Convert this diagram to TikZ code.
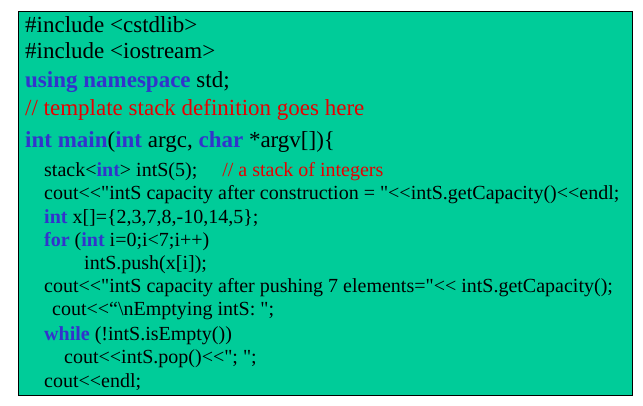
\documentclass[tikz,border=0pt]{standalone}
\usepackage{fontspec}
\newfontfamily\code{Liberation Serif}
\definecolor{bg}{RGB}{0,204,153}
\definecolor{kw}{RGB}{51,51,204}
\definecolor{cm}{RGB}{230,0,0}
\newcommand{\kw}[1]{\textcolor{kw}{\bfseries #1}}
\newcommand{\cm}[1]{\textcolor{cm}{#1}}
\begin{document}
\begin{tikzpicture}[x=1pt,y=-1pt,
  big/.style={anchor=base west,inner sep=0pt,font=\code\fontsize{23}{26}\selectfont},
  small/.style={anchor=base west,inner sep=0pt,font=\code\fontsize{20}{22}\selectfont}]
\useasboundingbox (0,0) rectangle (643,406);
\draw[fill=bg,line width=1pt] (18,12) rectangle (632,395);
\node[big] (l1) at (25,33) {\#include <cstdlib>};
\node[big] (l2) at (25,59) {\#include <iostream>};
\node[big] (l3) at (25,88) {\kw{using namespace} std;};
\node[big] (l4) at (25,116) {\cm{// template stack definition goes here}};
\node[big] (l5) at (25,148) {\kw{int main}(\kw{int} argc, \kw{char} *argv[])\{};
\node[small] (s1) at (44,177) {stack<\kw{int}> intS(5);\quad\ \cm{// a stack of integers}};
\node[small] (s2) at (44,200) {cout<<"intS capacity after construction = "<<intS.getCapacity()<<endl;};
\node[small] (s3) at (44,224) {\kw{int} x[]=\{2,3,7,8,-10,14,5\};};
\node[small] (s4) at (44,247) {\kw{for} (\kw{int} i=0;i<7;i++)};
\node[small] (s5) at (84,270) {intS.push(x[i]);};
\node[small] (s6) at (44,293) {cout<<"intS capacity after pushing 7 elements="<< intS.getCapacity();};
\node[small] (s7) at (52,316) {cout<<“\textbackslash nEmptying intS: ";};
\node[small] (s8) at (44,340) {\kw{while} (!intS.isEmpty())};
\node[small] (s9) at (64,363) {cout<<intS.pop()<<"; ";};
\node[small] (s10) at (44,387) {cout<<endl;};
\end{tikzpicture}
\end{document}
